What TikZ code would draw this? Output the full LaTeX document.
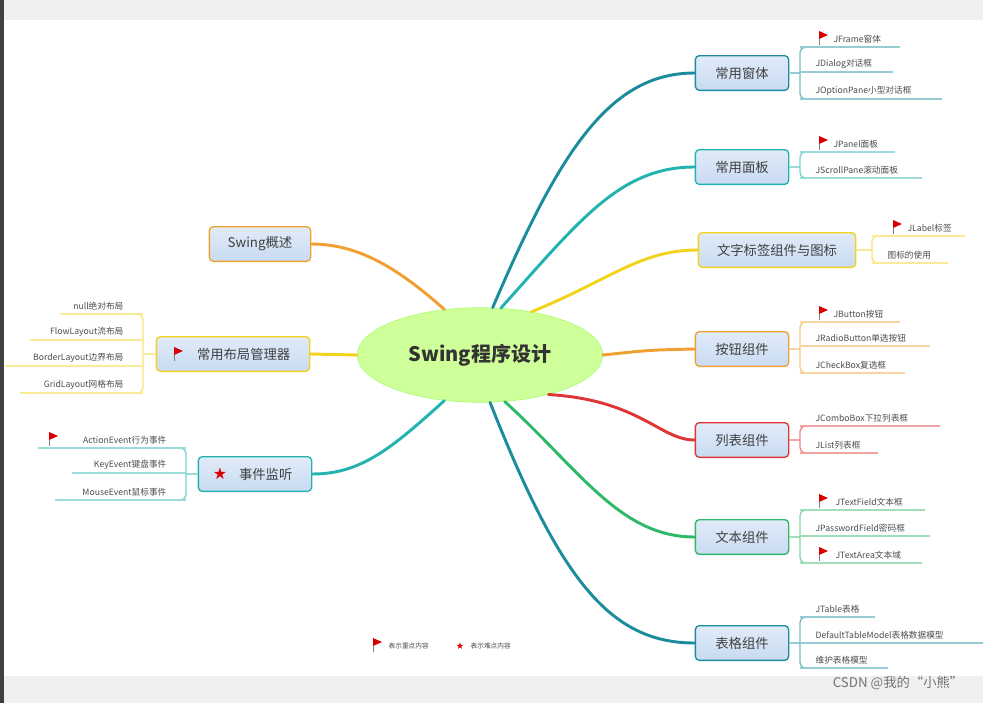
\documentclass[tikz,border=0pt]{standalone}
\usepackage{fontspec}
\setmainfont{Noto Sans CJK SC}
\newfontfamily\symf{DejaVu Sans}
\usetikzlibrary{shapes.geometric}
\definecolor{cteal}{HTML}{1B8C9C}
\definecolor{cteal2}{HTML}{22B3B0}
\definecolor{cyel}{HTML}{F2D21B}
\definecolor{corg}{HTML}{F0A030}
\definecolor{cred}{HTML}{E03535}
\definecolor{cgrn}{HTML}{2FB868}
\definecolor{boxfill}{HTML}{C8DBF2}
\tikzset{
 topic/.style={rounded corners=3pt,draw=#1,line width=1pt,top color=boxfill!55,bottom color=boxfill,font=\fontsize{10}{12}\selectfont,text=black!75,minimum height=26pt,inner xsep=8pt},
 leaf/.style={font=\fontsize{6.5}{8}\selectfont,text=black!70,inner sep=1pt,anchor=south west},
 lleaf/.style={font=\fontsize{6.5}{8}\selectfont,text=black!70,inner sep=1pt,anchor=south east},
 br/.style={draw=#1!60,line width=1pt,rounded corners=4pt},
 ul/.style={draw=#1!45,line width=1pt},
 branch/.style={draw=#1,line width=2.2pt,line cap=round},
 flagpic/.pic={\draw[gray,line width=0.4pt](0,0)--(0,-14);\fill[red!85!black](0,-14)--(9,-10)--(0,-6)--cycle;}
}
\begin{document}
\begin{tikzpicture}[x=0.75pt,y=-0.75pt]
\useasboundingbox (0,0) rectangle (983,703);
\fill[gray!12] (0,0) rectangle (983,20);
\fill[gray!12] (0,676) rectangle (983,703);
\fill[black!75] (0,0) rectangle (4,703);

\node[ellipse,fill=green!30!lime!40,draw=green!50!lime!60,minimum width=184pt,minimum height=71pt,font=\bfseries\fontsize{15}{18}\selectfont,text=black!80] (c) at (480,355) {Swing程序设计};

% right topics
\node[topic=cteal,minimum width=70pt] (w1) at (742,73) {常用窗体};
\node[topic=cteal2,minimum width=70pt] (w2) at (742,167) {常用面板};
\node[topic=cyel,minimum width=118pt] (w3) at (777,250) {文字标签组件与图标};
\node[topic=corg,minimum width=70pt] (w4) at (742,349) {按钮组件};
\node[topic=cred,minimum width=70pt] (w5) at (742,440) {列表组件};
\node[topic=cgrn,minimum width=70pt] (w6) at (742,537) {文本组件};
\node[topic=cteal,minimum width=70pt] (w7) at (742,643) {表格组件};
% left topics
\node[topic=corg,minimum width=76pt] (l1) at (260,244) {Swing概述};
\node[topic=cyel,minimum width=115pt] (l2) at (233,354) {\hspace{16pt}常用布局管理器};
\node[topic=cteal2,minimum width=85pt] (l3) at (255,474) {\hspace{16pt}事件监听};
\pic at (174,361) {flagpic};
\node[text=red!85!black,font=\symf\fontsize{12}{12}\selectfont] (star) at (220,474) {★};

% branches
\draw[branch=cteal] (c.75) .. controls (560,150) and (610,73) .. (w1.west);
\draw[branch=cteal2] (c.66) .. controls (580,220) and (620,167) .. (w2.west);
\draw[branch=cyel] (c.40) .. controls (610,280) and (640,250) .. (w3.west);
\draw[branch=corg] (c.east) .. controls (650,350) .. (w4.west);
\draw[branch=cred] (c.-30) .. controls (640,400) and (660,440) .. (w5.west);
\draw[branch=cgrn] (c.-62) .. controls (580,470) and (620,537) .. (w6.west);
\draw[branch=cteal] (c.-78) .. controls (560,580) and (610,643) .. (w7.west);
\draw[branch=corg] (c.128) .. controls (400,270) and (360,244) .. (l1.east);
\draw[branch=cyel] (c.west) -- (l2.east);
\draw[branch=cteal2] (c.-128) .. controls (390,450) and (360,474) .. (l3.east);

% 常用窗体
\draw[ul=cteal] (w1.east) -- (800,73);
\draw[br=cteal] (806,47) -- (800,47) -- (800,99) -- (806,99);
\node[leaf] (a1) at (832,45) {JFrame窗体}; \pic at (819,45) {flagpic};
\node[leaf] (a2) at (814,70) {JDialog对话框};
\node[leaf] (a3) at (814,97) {JOptionPane小型对话框};
\draw[ul=cteal] (800,47) -- (900,47); \draw[ul=cteal] (800,72) -- (893,72); \draw[ul=cteal] (800,99) -- (942,99);
% 常用面板
\draw[ul=cteal2] (w2.east) -- (800,167);
\draw[br=cteal2] (806,152) -- (800,152) -- (800,178) -- (806,178);
\node[leaf] (b1) at (832,150) {JPanel面板}; \pic at (819,150) {flagpic};
\node[leaf] (b2) at (814,176) {JScrollPane滚动面板};
\draw[ul=cteal2] (800,152) -- (895,152); \draw[ul=cteal2] (800,178) -- (922,178);
% 文字标签
\draw[ul=cyel] (w3.east) -- (872,250);
\draw[br=cyel] (878,236) -- (872,236) -- (872,263) -- (878,263);
\node[leaf] (d1) at (906,234) {JLabel标签}; \pic at (893,234) {flagpic};
\node[leaf] (d2) at (886,261) {图标的使用};
\draw[ul=cyel] (872,236) -- (965,236); \draw[ul=cyel] (872,263) -- (948,263);
% 按钮
\draw[ul=corg] (w4.east) -- (800,349);
\draw[br=corg] (806,322) -- (800,322) -- (800,373) -- (806,373);
\node[leaf] (e1) at (832,320) {JButton按钮}; \pic at (819,320) {flagpic};
\node[leaf] (e2) at (814,344) {JRadioButton单选按钮};
\node[leaf] (e3) at (814,371) {JCheckBox复选框};
\draw[ul=corg] (800,322) -- (900,322); \draw[ul=corg] (800,346) -- (930,346); \draw[ul=corg] (800,373) -- (905,373);
% 列表
\draw[ul=cred] (w5.east) -- (800,440);
\draw[br=cred] (806,426) -- (800,426) -- (800,453) -- (806,453);
\node[leaf] (f1) at (814,424) {JComboBox下拉列表框};
\node[leaf] (f2) at (814,451) {JList列表框};
\draw[ul=cred] (800,426) -- (940,426); \draw[ul=cred] (800,453) -- (878,453);
% 文本
\draw[ul=cgrn] (w6.east) -- (800,537);
\draw[br=cgrn] (806,510) -- (800,510) -- (800,563) -- (806,563);
\node[leaf] (g1) at (834,508) {JTextField文本框}; \pic at (819,508) {flagpic};
\node[leaf] (g2) at (814,534) {JPasswordField密码框};
\node[leaf] (g3) at (834,561) {JTextArea文本域}; \pic at (819,561) {flagpic};
\draw[ul=cgrn] (800,510) -- (925,510); \draw[ul=cgrn] (800,536) -- (930,536); \draw[ul=cgrn] (800,563) -- (922,563);
% 表格
\draw[ul=cteal] (w7.east) -- (800,643);
\draw[br=cteal] (806,617) -- (800,617) -- (800,668) -- (806,668);
\node[leaf] (h1) at (814,615) {JTable表格};
\node[leaf] (h2) at (814,641) {DefaultTableModel表格数据模型};
\node[leaf] (h3) at (814,666) {维护表格模型};
\draw[ul=cteal] (800,617) -- (875,617); \draw[ul=cteal] (800,643) -- (983,643); \draw[ul=cteal] (800,668) -- (888,668);

% 布局
\draw[ul=cyel] (l2.west) -- (143,354);
\draw[br=cyel] (137,314) -- (143,314) -- (143,393) -- (137,393);
\node[lleaf] (p1) at (125,312) {null绝对布局};
\node[lleaf] (p2) at (125,338) {FlowLayout流布局};
\node[lleaf] (p3) at (125,364) {BorderLayout边界布局};
\node[lleaf] (p4) at (125,391) {GridLayout网格布局};
\draw[ul=cyel] (143,314) -- (60,314); \draw[ul=cyel] (143,340) -- (30,340); \draw[ul=cyel] (143,366) -- (5,366); \draw[ul=cyel] (143,393) -- (20,393);
% 事件
\draw[ul=cteal2] (l3.west) -- (186,474);
\draw[br=cteal2] (180,448) -- (186,448) -- (186,500) -- (180,500);
\node[lleaf] (q1) at (168,446) {ActionEvent行为事件}; \pic at (49,446) {flagpic};
\node[lleaf] (q2) at (168,471) {KeyEvent键盘事件};
\node[lleaf] (q3) at (168,498) {MouseEvent鼠标事件};
\draw[ul=cteal2] (186,448) -- (38,448); \draw[ul=cteal2] (186,473) -- (72,473); \draw[ul=cteal2] (186,500) -- (55,500);

% legend
\pic at (373,652) {flagpic};
\node[font=\fontsize{5}{6}\selectfont,anchor=west,text=black!70] (lg1) at (384,646) {表示重点内容};
\node[text=red!85!black,font=\symf\fontsize{7}{7}\selectfont] (lg2s) at (460,646) {★};
\node[font=\fontsize{5}{6}\selectfont,anchor=west,text=black!70] (lg2) at (466,646) {表示难点内容};
\node[font=\fontsize{10}{12}\selectfont,text=black!55,anchor=east] (wm) at (968,683) {CSDN @我的“小熊”};
\end{tikzpicture}
\end{document}
